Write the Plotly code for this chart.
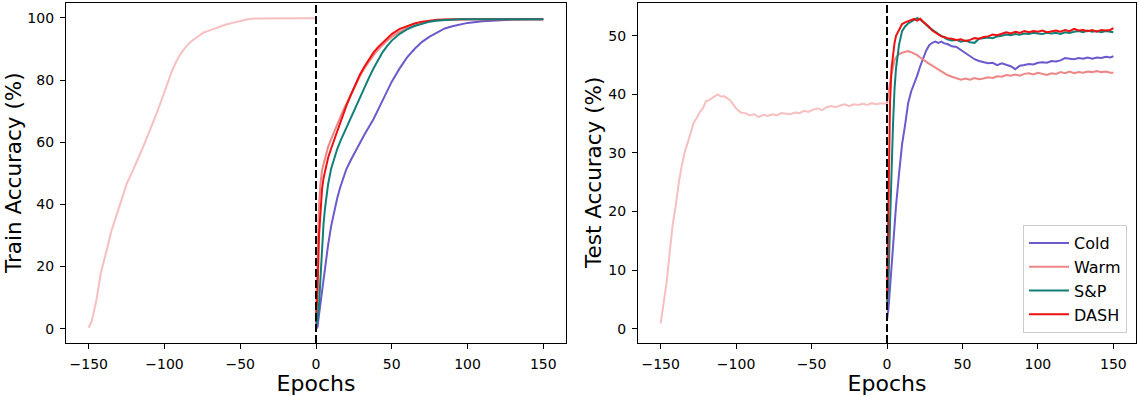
import plotly.graph_objects as go

# ---------------- data ----------------
# Train accuracy: warm-start pre-training phase (epochs -150..0)
train_pre_x = [-150, -148, -145, -142, -138, -135, -132, -128, -125, -121, -118, -115, -112, -109,
               -105, -102, -98, -95, -92, -89, -86, -83, -80, -77, -74, -70, -65, -60, -55, -50,
               -45, -40, -30, -20, -10, 0]
train_pre_warm = [0.3, 2.5, 9.0, 18.0, 25.5, 31.5, 36.0, 42.3, 46.5, 50.8, 54.0, 57.5, 61.0, 64.5,
                  69.5, 73.5, 79.0, 83.0, 86.2, 88.7, 90.6, 92.2, 93.3, 94.3, 95.3, 96.0, 96.9, 97.8,
                  98.4, 99.0, 99.6, 99.8, 99.9, 99.9, 99.9, 99.9]

# Train accuracy: fine-tuning phase (epochs 0..150)
train_x = [0, 1, 2, 3, 4, 5, 6, 8, 10, 12, 14, 16, 18, 20, 23, 26, 29, 32, 35, 38, 41, 44, 47, 50,
           55, 60, 65, 70, 75, 80, 85, 90, 95, 100, 110, 120, 130, 140, 150]
train_cold = [0.0, 0.5, 4.5, 8.5, 12.5, 16.5, 20.0, 27.0, 33.0, 38.0, 42.0, 45.5, 48.5, 51.3, 54.3,
              57.2, 59.8, 62.5, 65.0, 67.5, 70.5, 73.6, 76.6, 79.5, 83.6, 87.2, 90.0, 92.3, 94.0,
              95.4, 96.6, 97.3, 97.9, 98.4, 98.9, 99.3, 99.5, 99.6, 99.6]
train_warm = [5.0, 25.0, 40.0, 47.0, 51.0, 53.0, 55.0, 58.5, 61.0, 63.5, 65.8, 68.0, 70.3, 72.4,
              75.5, 78.5, 81.3, 83.8, 86.0, 88.0, 89.8, 91.3, 92.7, 93.9, 95.5, 96.7, 97.6, 98.3,
              98.9, 99.2, 99.4, 99.5, 99.6, 99.6, 99.6, 99.6, 99.6, 99.6, 99.6]
train_sp = [1.0, 3.0, 8.0, 18.0, 27.0, 34.0, 39.0, 46.5, 51.5, 55.0, 57.8, 60.3, 62.5, 64.6, 67.8,
            71.0, 74.3, 77.6, 80.8, 83.8, 86.6, 89.0, 91.0, 92.7, 94.8, 96.3, 97.4, 98.2, 98.8,
            99.2, 99.4, 99.5, 99.6, 99.6, 99.6, 99.6, 99.6, 99.6, 99.6]
train_dash = [2.0, 12.0, 30.0, 40.0, 45.0, 48.5, 51.0, 55.0, 58.0, 60.8, 63.5, 66.3, 69.0, 71.7,
              75.2, 78.6, 81.8, 84.4, 86.8, 88.9, 90.6, 92.0, 93.6, 94.8, 96.4, 97.4, 98.2, 98.8,
              99.2, 99.4, 99.5, 99.6, 99.6, 99.6, 99.6, 99.6, 99.6, 99.6, 99.6]

# Test accuracy: warm-start pre-training phase
test_pre_x = [-150, -148, -146, -144, -142, -140, -138, -136, -134, -132, -130, -128, -126, -124,
              -122, -120, -118, -116, -114, -112, -110, -108, -106, -104, -102, -100,
              -97, -94, -91, -88, -85, -82, -79, -76, -73, -70, -67, -64, -61, -58, -55, -52,
              -49, -46, -43, -40, -37, -34, -31, -28, -25, -22, -19, -16, -13, -10, -7, -4, -1, 0]
test_pre_warm = [0.9, 4.5, 8.0, 13.0, 17.8, 21.0, 24.9, 27.8, 30.2, 31.8, 33.5, 35.2, 36.0, 37.0,
                 37.6, 38.8, 39.0, 39.4, 39.7, 40.0, 39.6, 39.7, 39.3, 39.0, 38.3, 37.6,
                 36.9, 36.8, 36.4, 36.6, 36.1, 36.5, 36.3, 36.6, 36.4, 36.8, 36.7, 36.6, 36.9,
                 36.8, 37.2, 37.0, 37.4, 37.6, 37.3, 37.8, 38.0, 37.8, 38.1, 38.3, 38.0, 38.3,
                 38.2, 38.4, 38.2, 38.5, 38.3, 38.5, 38.4, 38.4]

# Test accuracy: fine-tuning phase
test_x = [0, 1, 2, 3, 4, 5, 6, 8, 10, 12, 14, 16, 18, 20, 22, 24, 26, 28, 30, 32, 34, 36, 38, 40,
          43, 46, 49, 52, 55, 58, 61, 64, 67, 70, 73, 76, 79, 82, 85, 88, 91, 94, 97, 100, 103,
          106, 109, 112, 115, 118, 121, 124, 127, 130, 133, 136, 139, 142, 145, 148, 150]
test_cold = [1.5, 3.5, 7.0, 10.5, 14.5, 18.0, 21.0, 26.5, 31.5, 34.8, 38.5, 40.5, 41.8, 43.2, 44.8,
             46.2, 47.5, 48.4, 48.8, 49.0, 48.8, 49.0, 48.7, 48.6, 48.2, 48.1, 47.6, 47.1, 46.5,
             46.0, 45.7, 45.5, 45.3, 45.4, 45.0, 45.3, 45.1, 44.8, 44.3, 44.9, 45.0, 45.2, 45.1,
             45.4, 45.5, 45.4, 45.7, 45.6, 45.8, 46.2, 46.1, 46.0, 46.2, 46.1, 46.3, 46.1, 46.3,
             46.2, 46.4, 46.3, 46.5]
test_warm = [38.5, 40.5, 42.0, 43.5, 44.8, 45.8, 46.3, 46.9, 47.1, 47.3, 47.4, 47.2, 47.0, 46.7,
             46.3, 45.9, 45.6, 45.2, 44.9, 44.6, 44.2, 43.9, 43.6, 43.3, 43.0, 42.7, 42.5, 42.7,
             42.5, 42.8, 42.6, 42.7, 42.9, 42.8, 43.1, 43.0, 43.3, 43.2, 43.4, 43.2, 43.5, 43.6,
             43.4, 43.7, 43.5, 43.3, 43.6, 43.5, 43.8, 43.6, 43.9, 43.6, 43.8, 43.7, 43.9, 43.8,
             44.0, 43.8, 43.9, 43.7, 43.7]
test_sp = [4.0, 8.0, 18.0, 27.5, 35.0, 41.0, 44.5, 48.5, 50.8, 51.6, 52.1, 52.4, 52.7, 53.0, 52.8,
           52.4, 51.9, 51.4, 51.1, 50.7, 50.3, 50.0, 49.7, 49.4, 49.2, 49.3, 49.0, 49.2, 48.9,
           48.8, 49.5, 49.6, 49.7, 49.6, 49.9, 50.0, 50.2, 50.1, 50.3, 50.2, 50.4, 50.3, 50.5,
           50.4, 50.3, 50.5, 50.4, 50.5, 50.3, 50.6, 50.5, 50.7, 50.8, 50.6, 50.9, 50.7, 50.8,
           50.6, 50.8, 50.7, 50.6]
test_dash = [5.0, 20.0, 38.5, 44.5, 47.0, 48.8, 50.0, 51.0, 52.0, 52.3, 52.5, 52.7, 52.9, 52.6,
             52.9, 52.4, 52.0, 51.5, 50.9, 50.6, 50.2, 49.9, 49.8, 49.6, 49.5, 49.3, 49.4, 49.1,
             49.3, 49.6, 49.5, 49.8, 49.9, 50.2, 50.1, 50.4, 50.6, 50.4, 50.7, 50.5, 50.8, 50.6,
             50.8, 50.7, 50.9, 50.6, 50.8, 50.9, 50.7, 51.0, 50.8, 51.2, 50.9, 51.0, 50.8, 51.0,
             50.7, 51.0, 50.9, 51.0, 51.3]

epoch_ticks = [-150, -100, -50, 0, 50, 100, 150]
train_ticks = [0, 20, 40, 60, 80, 100]
test_ticks = [0, 10, 20, 30, 40, 50]

C_COLD = "#6a5acd"
C_WARM = "rgba(236,128,128,0.95)"
C_PRE = "rgba(240,128,128,0.5)"
C_SP = "#107f78"
C_DASH = "#ee1111"
LW = 2

FONT = "DejaVu Sans"
W, H = 1139, 396

fig = go.Figure()

def add(x, y, color, name, ax, show=False, rank=None):
    xa, ya = ("x", "y") if ax == 1 else ("x2", "y2")
    fig.add_trace(go.Scatter(x=x, y=y, mode="lines", name=name,
                             line=dict(color=color, width=LW),
                             xaxis=xa, yaxis=ya, showlegend=show,
                             legendrank=rank if rank else 1000,
                             hoverinfo="skip"))

# left: train
add(train_pre_x, train_pre_warm, C_PRE, "Warm (pre)", 1)
add(train_x, train_cold, C_COLD, "Cold", 1)
add(train_x, train_warm, C_WARM, "Warm", 1)
add(train_x, train_dash, C_DASH, "DASH", 1)
add(train_x, train_sp, C_SP, "S&P", 1)
# right: test
add(test_pre_x, test_pre_warm, C_PRE, "Warm (pre)", 2)
add(test_x, test_cold, C_COLD, "Cold", 2, True, 1)
add(test_x, test_warm, C_WARM, "Warm", 2, True, 2)
add(test_x, test_sp, C_SP, "S&P", 2, True, 3)
add(test_x, test_dash, C_DASH, "DASH", 2, True, 4)

ydom = [1 - 343 / H, 1 - 3 / H]
ymid = (ydom[0] + ydom[1]) / 2
axis_common = dict(showline=True, mirror=True, linecolor="black", linewidth=1.2,
                   ticks="outside", ticklen=5, tickwidth=1.2, tickcolor="black",
                   showgrid=False, zeroline=False, ticklabelstandoff=3,
                   tickfont=dict(family=FONT, size=14, color="black"))

XT = dict(text="Epochs", font=dict(size=22), standoff=4)
fig.update_layout(
    width=W, height=H,
    margin=dict(l=0, r=0, t=0, b=0),
    paper_bgcolor="white", plot_bgcolor="white",
    font=dict(family=FONT, color="black"),
    xaxis=dict(domain=[66 / W, 566 / W], range=[-165, 165], tickvals=epoch_ticks,
               title=XT, anchor="y", **axis_common),
    yaxis=dict(domain=ydom, range=[-4.6, 104.8], tickvals=train_ticks,
               anchor="x", **axis_common),
    xaxis2=dict(domain=[638 / W, 1136 / W], range=[-165, 165], tickvals=epoch_ticks,
                title=XT, anchor="y2", **axis_common),
    yaxis2=dict(domain=ydom, range=[-2.45, 55.6], tickvals=test_ticks,
                anchor="x2", **axis_common),
    legend=dict(x=1127 / W, y=1 - 333 / H, xanchor="right", yanchor="bottom",
                bgcolor="white", bordercolor="#cccccc", borderwidth=1,
                font=dict(family=FONT, size=16, color="black"),
                tracegroupgap=0, itemwidth=40),
    annotations=[
        dict(text="Train Accuracy (%)", xref="paper", yref="paper", x=13 / W, y=ymid,
             textangle=-90, showarrow=False, xanchor="center", yanchor="middle",
             font=dict(family=FONT, size=21.5, color="black")),
        dict(text="Test Accuracy (%)", xref="paper", yref="paper", x=593 / W, y=ymid,
             textangle=-90, showarrow=False, xanchor="center", yanchor="middle",
             font=dict(family=FONT, size=21.5, color="black")),
    ],
    shapes=[
        dict(type="line", xref="x", yref="y domain", x0=0, x1=0, y0=0, y1=1,
             line=dict(color="black", width=2, dash="8px,3px"), layer="above"),
        dict(type="line", xref="x2", yref="y2 domain", x0=0, x1=0, y0=0, y1=1,
             line=dict(color="black", width=2, dash="8px,3px"), layer="above"),
    ],
)

fig.write_html("out.html", config={"displayModeBar": False},
               post_script="document.body.style.margin='0';document.body.style.overflow='hidden';")
